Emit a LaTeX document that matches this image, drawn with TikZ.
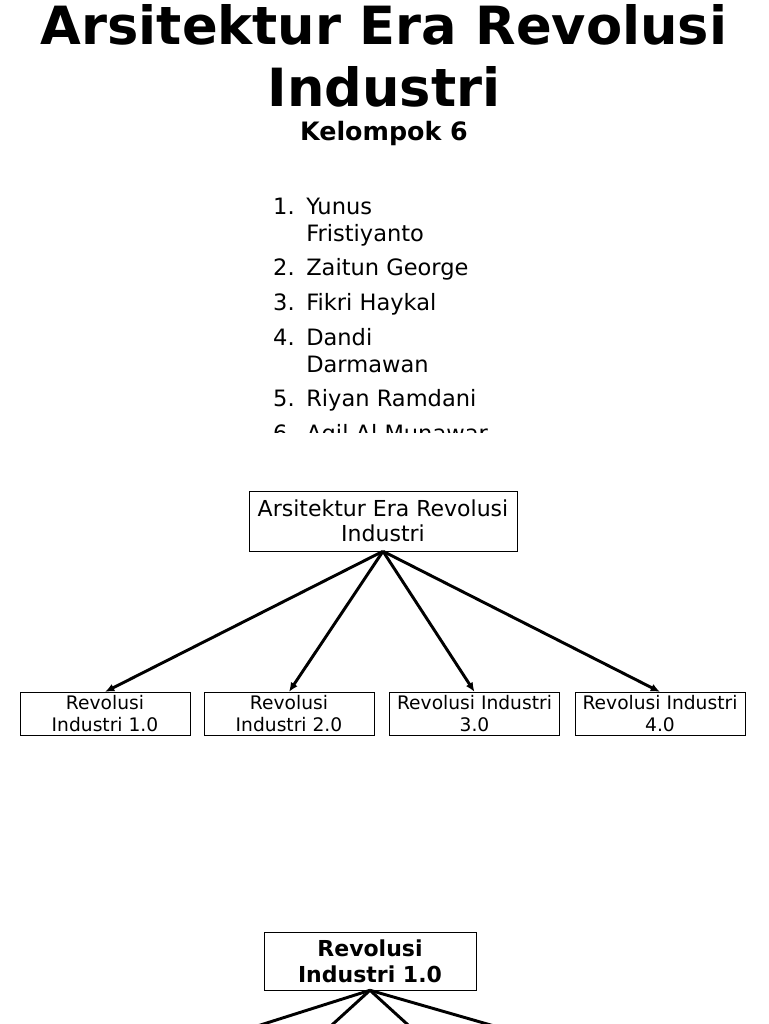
\documentclass[tikz,border=0pt]{standalone}
\usepackage{fontspec}
\setmainfont{DejaVu Sans}
\usetikzlibrary{arrows.meta}
\begin{document}
\begin{tikzpicture}[x=0.75pt,y=-0.75pt,
  box/.style={draw,thin,inner sep=0pt,align=center},
  arr/.style={line width=2.2pt,-{Latex[length=7pt,width=6pt]}},
  ln/.style={line width=2.2pt},
  li/.style={inner sep=0pt,anchor=base west},
  lnum/.style={inner sep=0pt,anchor=base east}]
\useasboundingbox (0,0) rectangle (768,1024);
\clip (0,0) rectangle (768,1024);
\node[font=\fontsize{39.5}{47}\bfseries\selectfont,align=center] (title) at (384,56) {Arsitektur Era Revolusi\\Industri};
\node[font=\fontsize{19}{22}\bfseries\selectfont] (kel) at (384,134) {Kelompok 6};
\begin{scope}
\clip (200,180) rectangle (560,432);
\begin{scope}[font=\fontsize{16.9}{19}\selectfont]
\node[lnum] (n1) at (295,214) {1.};
\node[li] (t1) at (306,214) {Yunus};
\node[li] (t1b) at (306,241) {Fristiyanto};
\node[lnum] (n2) at (295,275) {2.};
\node[li] (t2) at (306,275) {Zaitun George};
\node[lnum] (n3) at (295,310) {3.};
\node[li] (t3) at (306,310) {Fikri Haykal};
\node[lnum] (n4) at (295,345) {4.};
\node[li] (t4) at (306,345) {Dandi};
\node[li] (t4b) at (306,372) {Darmawan};
\node[lnum] (n5) at (295,406) {5.};
\node[li] (t5) at (306,406) {Riyan Ramdani};
\node[lnum] (n6) at (295,441) {6.};
\node[li] (t6) at (306,441) {Agil Al Munawar};
\end{scope}
\end{scope}
\node[box,minimum width=201pt,minimum height=45pt,font=\fontsize{16.5}{19}\selectfont] (root) at (383,521) {Arsitektur Era Revolusi\\Industri};
\begin{scope}[every node/.style={box,minimum width=127.5pt,minimum height=32pt,font=\fontsize{14}{16.5}\selectfont}]
\node (r1) at (105,713.5) {Revolusi\\Industri 1.0};
\node (r2) at (289,713.5) {Revolusi\\Industri 2.0};
\node (r3) at (474.5,713.5) {Revolusi Industri\\3.0};
\node (r4) at (660,713.5) {Revolusi Industri\\4.0};
\end{scope}
\foreach \t in {r1,r2,r3,r4} \draw[arr] (root.south) -- (\t.north);
\node[box,minimum width=159pt,minimum height=43.5pt,font=\fontsize{16.5}{19.5}\bfseries\selectfont] (b1) at (370,961) {Revolusi\\Industri 1.0};
\coordinate (c1) at (232,1034);
\coordinate (c2) at (322,1034);
\coordinate (c3) at (418,1034);
\coordinate (c4) at (522,1034);
\foreach \c in {c1,c2,c3,c4} \draw[ln] (b1.south) -- (\c);
\end{tikzpicture}
\end{document}
